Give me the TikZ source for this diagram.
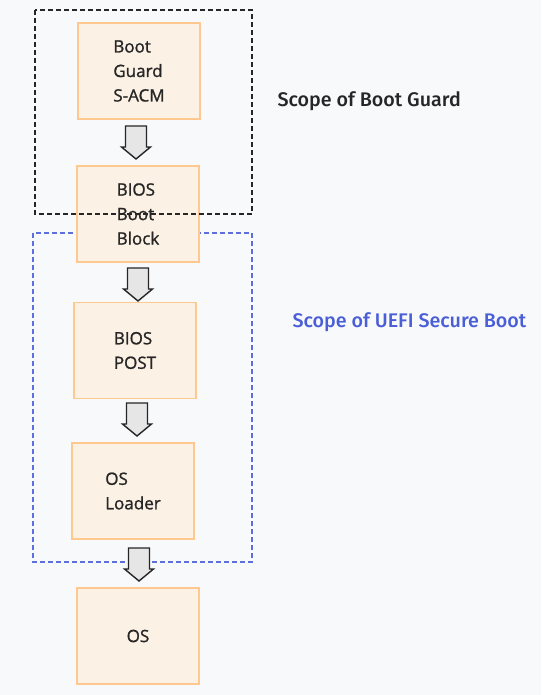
\documentclass[tikz,border=0pt]{standalone}
\usepackage{fontspec}
\setmainfont{Open Sans}[FakeBold=1.2]
\IfFontExistsTF{Fira Sans Medium}{\newfontfamily\scopefont{Fira Sans Medium}}{\newfontfamily\scopefont{Fira Sans}}
\usetikzlibrary{positioning,calc}

\definecolor{bgcol}{HTML}{F8F9FB}
\definecolor{boxfill}{HTML}{FCF1E5}
\definecolor{boxline}{HTML}{FFC88F}
\definecolor{scopeblue}{HTML}{4A5FD6}
\definecolor{arrowfill}{HTML}{E6E6E6}

\begin{document}
\begin{tikzpicture}
                    [x=1pt,y=-1pt,
                     stage/.style={draw=boxline,fill=boxfill,line width=1.3pt,minimum width=122pt,minimum height=96pt,
                                   align=left,font=\fontsize{17}{24.5}\selectfont,text=black!85},
                     flow/.style={draw=black!85,fill=arrowfill,line width=1.4pt,line join=miter},
                     scope/.style={line width=1.3pt,dash pattern=on 5pt off 3pt},
                     scopelabel/.style={anchor=west,font=\scopefont\fontsize{19.7}{22}\selectfont}]

                        \useasboundingbox[fill=bgcol] (0,0) rectangle (541,695);

                        % UEFI scope lies behind the stages
                        \draw[scope,draw=scopeblue!90] (33,233) rectangle (252,562);
                        \node[scopelabel,text=black!85] (guard) at (274,101) {Scope of Boot Guard};
                        \node[scopelabel,text=scopeblue] (uefi) at (289,322) {Scope of UEFI Secure Boot};

                        % boot stages
                        \node[stage] (acm) at (139,71) {Boot\\Guard\\S-ACM};
                        \node[stage] (bootblock) at (138,214) {BIOS\\Boot\\Block};
                        \node[stage] (post) at (135,350.5) {BIOS\\POST};
                        \node[stage] (loader) at (133,491) {OS\\Loader};
                        \node[stage] (os) at (138,636) {OS};

                        % Boot Guard scope is drawn over the boot block
                        \draw[scope,draw=black!85] (35,10) rectangle (252,214);

                        % hand-over arrows
                        \foreach \ax/\ay in {136/126,138/268,137/403,139/548}
                            \draw[flow] (\ax-10.5,\ay) -- (\ax+10.5,\ay) -- (\ax+10.5,\ay+21) -- (\ax+14.5,\ay+21)
                                        -- (\ax,\ay+33) -- (\ax-14.5,\ay+21) -- (\ax-10.5,\ay+21) -- cycle;

                \end{tikzpicture}
\end{document}
